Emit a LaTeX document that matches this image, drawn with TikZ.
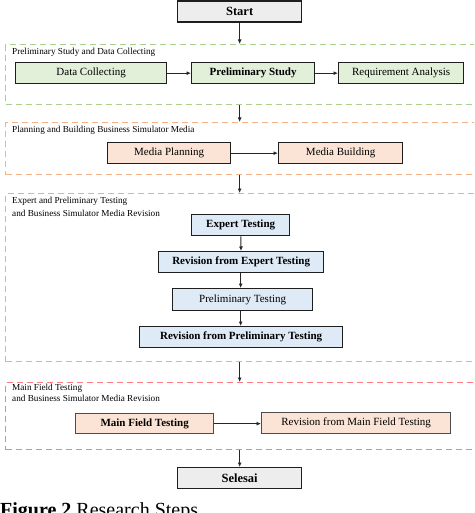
\documentclass[tikz,border=0pt]{standalone}
\usepackage{fontspec}
\setmainfont{Liberation Serif}
\usetikzlibrary{arrows.meta}
\definecolor{grayfill}{HTML}{EDEDED}
\definecolor{greenfill}{HTML}{E2EFD9}
\definecolor{greendash}{HTML}{A9D18E}
\definecolor{orangefill}{HTML}{FBE4D5}
\definecolor{orangedash}{HTML}{F4B183}
\definecolor{bluefill}{HTML}{DEEAF6}
\definecolor{bluedash}{HTML}{9DC3E6}
\definecolor{reddash}{HTML}{FF7C80}
\definecolor{boxline}{HTML}{1E1E1E}
\begin{document}
\begin{tikzpicture}[x=1pt,y=-1pt,
  box/.style={draw=boxline, line width=1.3pt, minimum height=21pt, anchor=north west,
    inner sep=0pt, font=\fontsize{11}{13}\selectfont},
  endbox/.style={box, fill=grayfill, minimum width=124pt, minimum height=21pt,
    font=\fontsize{12.5}{14}\selectfont\bfseries},
  grp/.style={dash pattern=on 6pt off 4pt, line width=1.1pt, anchor=north west,
    inner sep=0pt, minimum width=480pt},
  lbl/.style={anchor=west, inner sep=0pt, font=\fontsize{9.2}{11}\selectfont},
  arr/.style={-{Latex[length=4.5pt,width=4pt]}, line width=0.9pt, draw=black!85}]
\clip (0,0) rectangle (474,513);
% groups
\node[grp, draw=greendash, minimum height=60pt] (g1) at (5,44) {};
\node[grp, draw=orangedash, minimum height=52pt] (g2) at (5,122) {};
\node[grp, draw=bluedash, minimum height=168pt] (g3) at (5,193) {};
\node[grp, draw=reddash, minimum height=67pt] (g4) at (5,382) {};
% group labels
\node[lbl] (l1) at (12,52.5) {Preliminary Study and Data Collecting};
\node[lbl] (l2) at (12,130.5) {Planning and Building Business Simulator Media};
\node[lbl] (l3a) at (12,201.5) {Expert and Preliminary Testing};
\node[lbl] (l3b) at (12,213) {and Business Simulator Media Revision};
\node[lbl] (l4a) at (12,388.5) {Main Field Testing};
\node[lbl] (l4b) at (12,398.5) {and Business Simulator Media Revision};
% start / end
\node[endbox] (start) at (177,0.5) {Start};
\node[endbox] (sel) at (177,467) {Selesai};
% group 1
\node[box, fill=greenfill, minimum width=151pt] (dc) at (15,62) {Data Collecting};
\node[box, fill=greenfill, minimum width=123pt, font=\fontsize{11}{13}\selectfont\bfseries] (ps) at (191,62) {Preliminary Study};
\node[box, fill=greenfill, minimum width=125pt] (ra) at (338,62) {Requirement Analysis};
% group 2
\node[box, fill=orangefill, minimum width=123pt] (mp) at (107,142) {Media Planning};
\node[box, fill=orangefill, minimum width=124pt] (mb) at (278,142) {Media Building};
% group 3
\node[box, fill=bluefill, minimum width=98pt, font=\fontsize{11}{13}\selectfont\bfseries] (et) at (191,214) {Expert Testing};
\node[box, fill=bluefill, minimum width=165pt, font=\fontsize{11}{13}\selectfont\bfseries] (ret) at (158,251) {Revision from Expert Testing};
\node[box, fill=bluefill, minimum width=140pt, minimum height=22pt] (pt) at (172,288) {Preliminary Testing};
\node[box, fill=bluefill, minimum width=203pt, font=\fontsize{11}{13}\selectfont\bfseries] (rpt) at (139,326) {Revision from Preliminary Testing};
% group 4
\node[box, fill=orangefill, draw=black!70, minimum width=138pt, minimum height=20pt, font=\fontsize{11}{13}\selectfont\bfseries] (mft) at (75,413) {Main Field Testing};
\node[box, fill=orangefill, draw=black!70, minimum width=189pt] (rmft) at (261,412) {Revision from Main Field Testing};
% connectors
\draw[arr] (start.south) -- (start.south |- g1.north);
\draw[arr] (dc) -- (ps);
\draw[arr] (ps) -- (ra);
\draw[arr] (start.south |- g1.south) -- (start.south |- g2.north);
\draw[arr] (mp) -- (mb);
\draw[arr] (start.south |- g2.south) -- (start.south |- g3.north);
\draw[arr] (et) -- (ret);
\draw[arr] (ret.south -| et.south) -- (pt.north -| et.south);
\draw[arr] (pt.south -| et.south) -- (rpt.north -| et.south);
\draw[arr] (start.south |- g3.south) -- (start.south |- g4.north);
\draw[arr] (mft.east) -- (rmft.west |- mft.east);
\draw[arr] (sel.north |- g4.south) -- (sel.north);
% caption (cut off)
\node[anchor=base west, inner sep=0pt, font=\fontsize{20}{24}\selectfont] (cap) at (0,516) {\textbf{Figure 2} Research Steps};
\end{tikzpicture}
\end{document}
